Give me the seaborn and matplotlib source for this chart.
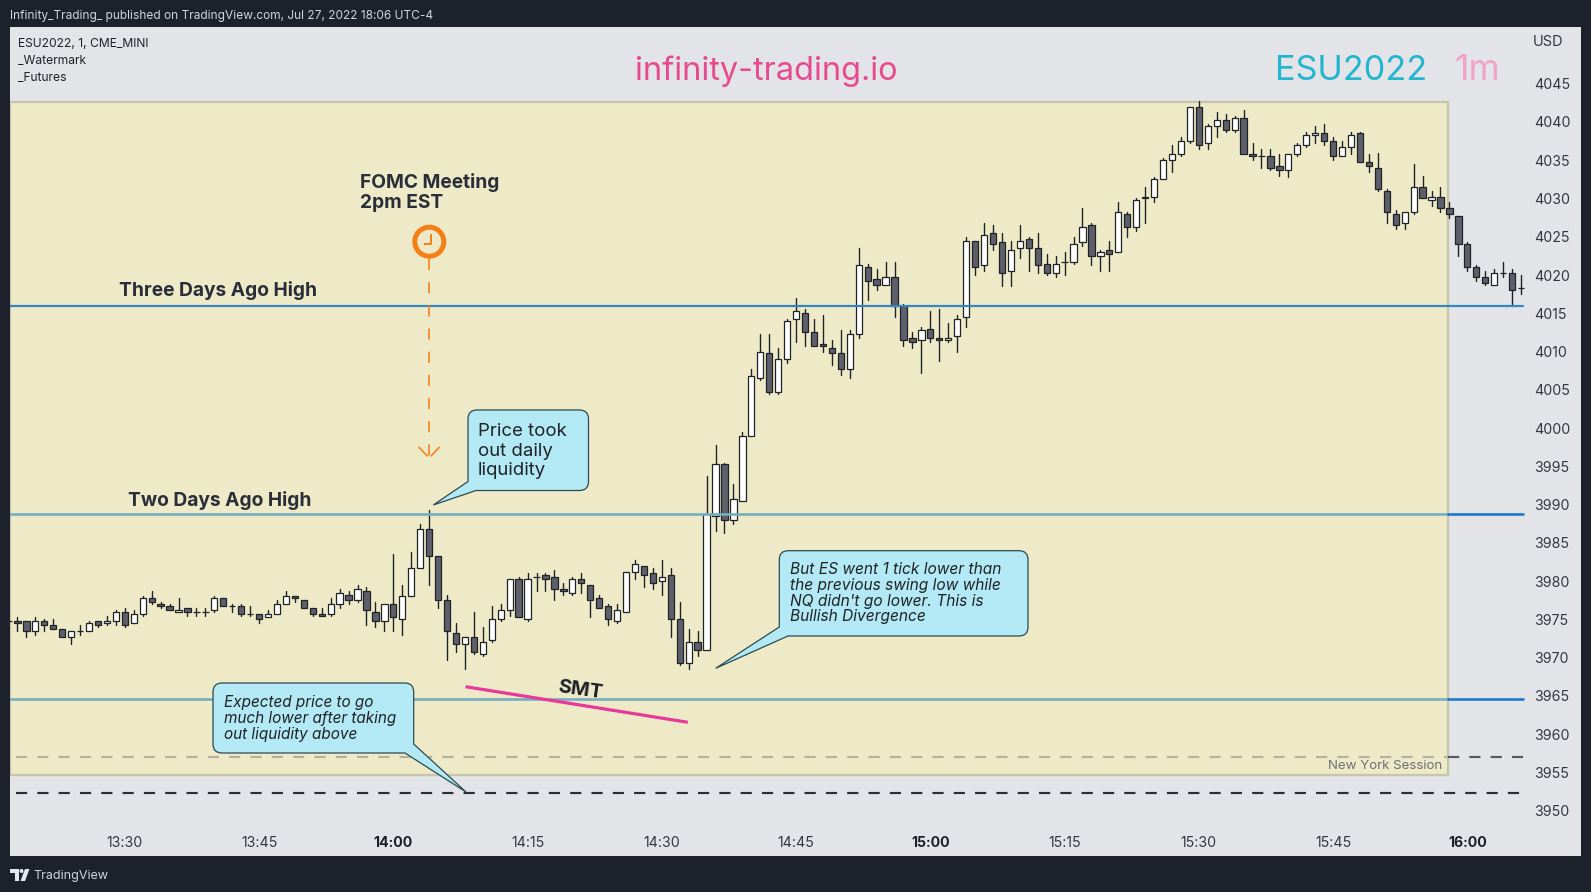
import numpy as np
import pandas as pd
import seaborn as sns
import matplotlib.pyplot as plt
from matplotlib.patches import Rectangle, PathPatch, Circle, Polygon
from matplotlib.path import Path

W, H = 1591, 892

minutes = list(range(-43, 127))  # minutes from 14:00

opens = [
    3974.75,3974.75,3974.75,3973.5,3974.75,3974.25,3973.75,3972.75,3973.5,3973.5,
    3974.75,3974.5,3974.75,3976,3974.5,3975.75,3977.75,3977,3976.75,3976,
    3976.5,3976,3976,3976.25,3977.75,3976.75,3976.75,3975.75,3975.75,3975.25,
    3975.75,3977,3978,3977.5,3976.5,3975.75,3975.75,3977,3978.25,3977.5,
    3978.75,3976,3974.75,3977,3975,3978,3981.75,3986.75,3983.25,3977.5,
    3973.25,3971.75,3972.75,3970.5,3972.25,3975,3976.25,3980.25,3975,3980.5,
    3980.75,3980.5,3979,3978.5,3980.25,3979.5,3977.75,3976.75,3974.75,3976,
    3981.25,3982,3981,3980,3980.75,3975,3969.25,3972,3971,3988.5,
    3995.25,3988,3990.5,3999,4006.5,4009.75,4004.75,4009,4014.25,4015,
    4012.5,4011,4010.5,4009.75,4007.75,4012.25,4021,4019.5,4018.75,4019.75,
    4016,4011.75,4011.5,4013,4011.75,4011.5,4012,4014.5,4024.5,4021.25,
    4025.5,4024.25,4020.5,4023.5,4024.75,4023.5,4021.5,4020.25,4021.75,4021.75,
    4024.25,4026.5,4022.5,4023.25,4023,4028,4026.25,4030,4030.25,4032.5,
    4035,4035.75,4037.5,4042,4037.25,4039.5,4040.25,4039,4040.5,4035.75,
    4035.5,4035.5,4034.25,4033.75,4035.75,4037,4038.25,4038.5,4037.5,4035.5,
    4036.75,4038.5,4034.75,4034,4031,4028,4026.75,4028.25,4031.5,4029.75,
    4030.25,4028.75,4027.75,4024,4021,4019.75,4018.75,4020.25,4020.25,4018.25,
]
closes = [
    3974.75,3974.5,3973.5,3974.75,3974.25,3973.75,3972.75,3973.5,3973.5,3974.5,
    3974.25,3974.75,3976,3974.25,3975.75,3977.75,3977.25,3976.75,3976.25,3976.25,
    3976,3976,3976,3977.75,3976.75,3976.75,3975.75,3975.75,3975,3975.75,
    3977,3978,3977.75,3976.5,3975.75,3975.5,3977,3978.5,3977.5,3979,
    3976.25,3974.75,3977,3975.25,3978,3981.75,3986.75,3983.25,3977.5,3973.5,
    3971.75,3972.75,3970.75,3972,3975,3976.25,3980.25,3975.25,3980.25,3980.5,
    3980.25,3979,3978.75,3980.25,3979.75,3977.5,3976.5,3975,3976.25,3981.25,
    3982.25,3980.75,3979.75,3980.5,3975,3969.25,3972,3971,3988.75,3995.25,
    3988,3990.75,3999,4006.75,4010,4004.75,4009,4014,4015.25,4012.5,
    4010.75,4010.75,4009.75,4007.75,4012.25,4021.25,4019.25,4018.75,4019.75,4016,
    4011.5,4011.25,4012.75,4011.75,4011.5,4011.75,4014.25,4024.5,4021,4025.25,
    4024,4020.25,4023.25,4024.5,4023.5,4021.25,4020.25,4021.5,4021.75,4024,
    4026.25,4022.5,4023,4022.75,4028.25,4026.25,4029.75,4030.25,4032.5,4035,
    4035.75,4037.5,4042,4037,4039.5,4040.25,4039,4040.5,4035.75,4035.5,
    4035.5,4034,4033.75,4035.75,4037,4038.25,4038.5,4037.5,4035.5,4036.75,
    4038.25,4034.75,4034.25,4031.25,4028.25,4026.5,4028.25,4031.5,4030,4030.25,
    4028.75,4028,4024,4021,4019.75,4019,4020.25,4020.25,4018,4018.25,
]
highs = [
    3974.75,3975.25,3974.75,3975.25,3975,3975,3973.75,3973.5,3974.25,3974.75,
    3974.75,3975.5,3976.25,3976.5,3976.25,3978,3978.75,3977.25,3977,3977.75,
    3976.5,3976.5,3976.5,3978,3977.75,3977,3977,3976.75,3975.75,3976.25,
    3977.5,3978.75,3978,3977.5,3976.5,3976.5,3977.75,3979,3978.75,3979.5,
    3979.25,3977.25,3977,3983.5,3979.5,3983.75,3987.5,3989.25,3983.25,3978.25,
    3974.5,3972.75,3976,3974,3976.75,3977,3980.25,3980.5,3981,3981,
    3981,3981.5,3979.75,3980.5,3981,3979.5,3978.25,3977,3977,3981.25,
    3982.75,3982,3981.75,3982.75,3981.75,3977.25,3973.75,3973.5,3993.75,3997.75,
    3995.5,3992.75,3999.5,4007.75,4012.25,4012.25,4010.5,4014.25,4017,4015.5,
    4014.25,4014.75,4011.5,4012.75,4012.75,4023.5,4021.5,4020.75,4021.75,4021.75,
    4016.25,4012.5,4013.25,4015.25,4015.5,4013.75,4014.75,4025,4024.5,4026.75,
    4026.5,4025.5,4024.5,4026.5,4025,4025.5,4022.75,4022.5,4023,4025,
    4028.75,4026.75,4023.25,4024.5,4029.5,4028.25,4030,4031.5,4032.75,4035.25,
    4037,4038,4042,4042.75,4039.75,4041.25,4041,4040.75,4041.5,4037.25,
    4036.5,4036.5,4035.75,4035.75,4037.25,4038.75,4039.5,4039.75,4038,4037.5,
    4038.75,4038.75,4035.75,4036,4031.25,4028.5,4028.25,4034.5,4033,4031,
    4031.5,4029.5,4027.75,4024.25,4021.25,4020.5,4020.75,4021.75,4020.75,4020,
]
lows = [
    3974.75,3973.5,3972.75,3973,3973.5,3973.75,3972.75,3971.75,3973,3973.5,
    3974,3974.25,3974.25,3974,3974.5,3975.5,3977,3976.5,3976.25,3976,
    3975.5,3975.5,3975.5,3976,3976.75,3976,3975.5,3975.5,3974.5,3975.25,
    3975.75,3977,3977.25,3976.5,3975.5,3975.5,3975.5,3976.5,3977,3977.25,
    3974.25,3974,3973.5,3973.5,3973,3978,3981.75,3979.5,3976.5,3969.75,
    3970.75,3968.5,3970.5,3970.25,3972,3974.75,3975.5,3975.25,3974.75,3978.75,
    3978.75,3977.5,3978.25,3978.25,3978.5,3975.25,3976.5,3974.25,3974.5,3976,
    3980.25,3979.25,3979,3978.25,3972.75,3969,3968.5,3970.25,3971,3986.5,
    3986.25,3987.5,3990.5,3999,4006.25,4004.5,4004.5,4008.5,4011.25,4010.75,
    4010.75,4010,4008.25,4007,4006.5,4011.75,4016.75,4018,4018.75,4014.5,
    4010.75,4010.5,4007.25,4011.25,4008.75,4011.25,4010,4013.25,4020,4020.5,
    4023.25,4018.5,4018.5,4022.25,4020.5,4020.25,4020,4019.75,4020,4021.5,
    4023.75,4021.25,4020.5,4020.5,4023,4025,4025.75,4026.75,4029.5,4032.5,
    4033.5,4035.5,4037.25,4036.5,4036.5,4038,4038.75,4038.75,4035.75,4035,
    4034,4033.75,4033,4032.75,4035.5,4036.75,4037.25,4037,4035,4035.5,
    4035.75,4034.75,4033.5,4031,4026.75,4026,4026,4028,4030,4029,
    4028.25,4027.5,4022.5,4020.5,4019.25,4018.75,4018.75,4019.75,4016,4017.5,
]

price_ticks = list(range(3950, 4050, 5))
time_ticks = [-30, -15, 0, 15, 30, 45, 60, 75, 90, 105, 120]
time_labels = ["13:30", "13:45", "14:00", "14:15", "14:30", "14:45", "15:00", "15:15", "15:30", "15:45", "16:00"]
bold_times = ["14:00", "15:00", "16:00"]

three_days_high = 4015.9
two_days_high = 3988.73
level_low = 3964.55
grey_dash_level = 3957.05
black_dash_level = 3952.3
session_top = 4042.6
session_bottom = 3954.6
session_end = 117.84
line_end = 126.2

PANEL = "#e2e4e7"
DARK = "#1c212c"
YELLOW = "#eeeac8"
BOX = "#b3e9f4"
INK = "#2a2e39"

sns.set_theme(style="white")
plt.rcParams["font.family"] = ["Inter", "DejaVu Sans"]

df = pd.DataFrame({"minute": minutes, "open": opens, "high": highs, "low": lows, "close": closes})
df["bottom"] = df[["open", "close"]].min(axis=1)
df["body"] = (df["close"] - df["open"]).abs()
up = df[df["close"] >= df["open"]]
down = df[df["close"] < df["open"]]
wicks = pd.concat([df[["minute", "high"]].rename(columns={"high": "price"}),
                   df[["minute", "low"]].rename(columns={"low": "price"})]).sort_values("minute")

fig = plt.figure(figsize=(W / 100, H / 100), dpi=100, facecolor=DARK)
ax = fig.add_axes([10 / W, 1 - 856 / H, 1571 / W, 829 / H], facecolor=PANEL)

x_left, x_right = -42.83, 132.7
ax.add_patch(Rectangle((x_left, session_bottom), session_end - x_left, session_top - session_bottom,
                       facecolor=YELLOW, edgecolor="#c6c4aa", linewidth=1.6, zorder=1))

sns.lineplot(data=wicks, x="minute", y="price", units="minute", estimator=None, color="#1f2328",
             linewidth=1.0, legend=False, ax=ax, zorder=3)
sns.barplot(x=up["minute"].to_numpy(), y=up["body"].to_numpy(), bottom=up["bottom"].to_numpy(),
            native_scale=True, width=0.7, color="white", saturation=1, edgecolor="#1f2328",
            linewidth=0.9, errorbar=None, ax=ax, zorder=4)
sns.barplot(x=down["minute"].to_numpy(), y=down["body"].to_numpy(), bottom=down["bottom"].to_numpy(),
            native_scale=True, width=0.7, color="#5d606b", saturation=1, edgecolor="#1f2328",
            linewidth=0.9, errorbar=None, ax=ax, zorder=4)

ax.plot([x_left, line_end], [three_days_high] * 2, color="#3486c0", lw=1.6, zorder=5)
for level in [two_days_high, level_low]:
    ax.plot([x_left, session_end], [level] * 2, color="#74aebf", lw=1.9, zorder=5)
    ax.plot([session_end, line_end], [level] * 2, color="#1b79d1", lw=1.9, zorder=5)
dash = (0, (5.2, 4.7))
ax.plot([-42.2, session_end], [grey_dash_level] * 2, color="#b4b29e", lw=1.55, ls=dash, zorder=2)
ax.plot([session_end, line_end], [grey_dash_level] * 2, color="#55585e", lw=1.55, ls=dash, zorder=2)
ax.plot([-42.2, line_end], [black_dash_level] * 2, color=INK, lw=1.55, ls=dash, zorder=2)

ax.set_xlim(x_left, x_right)
ax.set_ylim(3944.08, 4052.41)
ax.set_xlabel("")
ax.set_ylabel("")
ax.yaxis.tick_right()
ax.set_yticks(price_ticks)
ax.set_yticklabels([str(p) for p in price_ticks])
ax.set_xticks(time_ticks)
ax.set_xticklabels(time_labels)
ax.tick_params(axis="y", length=0, pad=-33.8, labelsize=10.2, labelcolor="#33373f")
ax.tick_params(axis="x", length=0, pad=-14.6, labelsize=10.2, labelcolor="#33373f")
for lab in ax.get_xticklabels():
    if lab.get_text() in bold_times:
        lab.set_fontweight("bold")
        lab.set_color("#1c1f26")
for spine in ax.spines.values():
    spine.set_visible(False)

# overlay in pixel coordinates for the drawings on the chart
ov = fig.add_axes([0, 0, 1, 1], zorder=10)
ov.set_xlim(0, W)
ov.set_ylim(H, 0)
ov.axis("off")
ov.patch.set_alpha(0)


def txt(x, y, s, size, color=INK, **kw):
    kw.setdefault("va", "center")
    ov.text(x, y, s, fontsize=size * 0.72, color=color, zorder=8, **kw)


def callout(points, radius=9):
    # points: (x, y, rounded?) around the outline
    verts, codes = [], []
    n = len(points)
    for i, (x, y, rnd) in enumerate(points):
        p = np.array([x, y], float)
        if rnd:
            prev = np.array(points[i - 1][:2], float)
            nxt = np.array(points[(i + 1) % n][:2], float)
            a = p + (prev - p) / np.linalg.norm(prev - p) * radius
            b = p + (nxt - p) / np.linalg.norm(nxt - p) * radius
            verts += [a, p, b]
            codes += [Path.LINETO, Path.CURVE3, Path.CURVE3]
        else:
            verts.append(p)
            codes.append(Path.LINETO)
    codes[0] = Path.MOVETO
    verts.append(verts[0])
    codes.append(Path.CLOSEPOLY)
    ov.add_patch(PathPatch(Path(verts, codes), facecolor=BOX, edgecolor="#2c4a52", lw=0.9, zorder=6))


txt(10, 16.5, "Infinity_Trading_ published on TradingView.com, Jul 27, 2022 18:06 UTC-4", 11.9, "#d1d4dc")
txt(18, 44, "ESU2022, 1, CME_MINI", 12.1, "#1f2328")
txt(18, 61, "_Watermark", 12.1, "#1f2328")
txt(18, 78, "_Futures", 12.1, "#1f2328")
txt(1533, 42, "USD", 14.5, "#33373f")
txt(766, 71, "infinity-trading.io", 32.5, "#e84a8f", ha="center")
txt(1275, 71, "ESU2022", 34.2, "#22b5cf")
txt(1454, 71, "1m", 35.5, "#f0a3c4")
txt(1442, 766, "New York Session", 13.3, "#6d7076", ha="right")

txt(360.5, 183, "FOMC Meeting", 19.2, "#2a2e39", fontweight="bold")
txt(360.5, 203, "2pm EST", 19.2, "#2a2e39", fontweight="bold")
txt(119, 291, "Three Days Ago High", 19.2, "#2a2e39", fontweight="bold")
txt(128, 501, "Two Days Ago High", 19.2, "#2a2e39", fontweight="bold")

# clock + dashed arrow
orange = "#f57f17"
ov.add_patch(Circle((429.3, 241.7), 14.5, facecolor=YELLOW, edgecolor=orange, lw=3.6, zorder=6))
ov.plot([431, 431, 424], [234, 244, 244], color=orange, lw=1.4, solid_capstyle="butt", zorder=7)
ov.plot([429, 429], [259, 457], color=orange, lw=1.15, ls=(0, (7, 7.5)), zorder=6)
ov.plot([419, 427.3], [447.3, 456], color=orange, lw=1.15, zorder=6)
ov.plot([439.3, 431], [447.3, 456], color=orange, lw=1.15, zorder=6)

# SMT line
ov.plot([465.6, 687.8], [686.7, 722.3], color="#e8399a", lw=2.3, solid_capstyle="butt", zorder=6)
txt(580, 690, "SMT", 20, "#1c1f26", fontweight="bold", ha="center", rotation=-8, rotation_mode="anchor")

# callouts
callout([(468, 410, True), (588.5, 410, True), (588.5, 490.5, True), (476, 490.5, False),
         (433.3, 505, False), (468, 481.5, False)])
for y, s in zip([431, 451, 470.5], ["Price took", "out daily", "liquidity"]):
    txt(478, y, s, 18.6, "#1f2328")

callout([(779.3, 550.7, True), (1028, 550.7, True), (1028, 636, True), (788, 636, False),
         (715.7, 668.3, False), (779.3, 627, False)])
for y, s in zip([569, 585.5, 601.5, 617], ["But ES went 1 tick lower than", "the previous swing low while",
                                           "NQ didn't go lower. This is", "Bullish Divergence"]):
    txt(790.5, y, s, 15.5, "#1f2328", style="italic")

callout([(213, 683, True), (413.7, 683, True), (413.7, 744, False), (466, 792, False),
         (405, 753, False), (213, 753, True)])
for y, s in zip([702.5, 719, 735], ["Expected price to go", "much lower after taking", "out liquidity above"]):
    txt(224.5, y, s, 15.3, "#1f2328", style="italic")

# footer mark
ov.add_patch(Polygon([(10, 869), (19, 869), (19, 881), (15, 881), (15, 873), (10, 873)], facecolor="#e6e8ee", lw=0))
ov.add_patch(Circle((21.5, 871), 2, facecolor="#e6e8ee", lw=0))
ov.add_patch(Polygon([(25, 869), (29.5, 869), (25, 881), (20.5, 881)], facecolor="#e6e8ee", lw=0))
txt(33, 875.5, "TradingView", 12.6, "#d1d4dc")

fig.savefig("out.png", dpi=100, facecolor=DARK)
